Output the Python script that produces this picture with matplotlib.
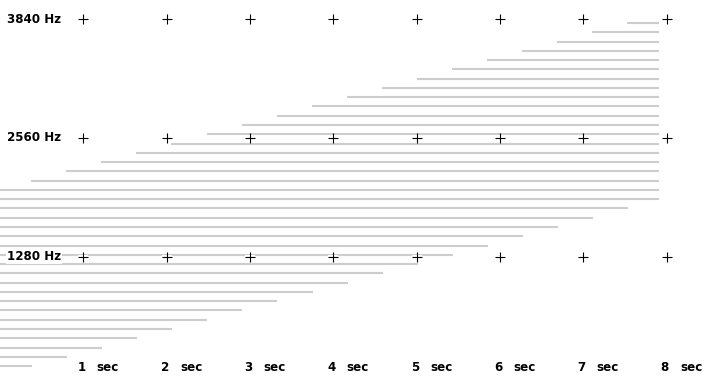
import matplotlib
matplotlib.use("Agg")
import matplotlib.pyplot as plt
from matplotlib.path import Path

# partials: frequency (Hz), start and end time (sec)
freqs = [100 * k for k in range(1, 39)]
starts = [0.0] * 20 + [0.37, 0.79, 1.21, 1.63, 2.05, 2.48, 2.90, 3.32, 3.74,
                       4.16, 4.58, 5.00, 5.43, 5.85, 6.27, 6.69, 7.11, 7.53]
ends = [0.39, 0.81, 1.23, 1.65, 2.07, 2.49, 2.91, 3.33, 3.76, 4.18, 4.60,
        5.02, 5.44, 5.86, 6.28, 6.70, 7.12, 7.54] + [7.91] * 20

sec_ticks = [1, 2, 3, 4, 5, 6, 7, 8]
hz_ticks = [1280, 2560, 3840]

fig = plt.figure(figsize=(7.13, 3.76), dpi=100)
ax = fig.add_axes([0, 0, 1, 1])
ax.set_xlim(0, 713 / 83.33)
ax.set_ylim(-6.5, 4048)
ax.axis("off")

ax.hlines(freqs, starts, ends, colors="#cdcdcd", linewidth=1.5,
          capstyle="butt", zorder=1)

# white box behind each cross, then the cross
box = Path([(-1, -1), (1, -1), (1, 0.4), (-1, 0.4), (-1, -1)],
           [Path.MOVETO, Path.LINETO, Path.LINETO, Path.LINETO, Path.CLOSEPOLY])
gx = [s for h in hz_ticks for s in sec_ticks]
gy = [h for h in hz_ticks for s in sec_ticks]
ax.plot(gx, gy, linestyle="none", marker=box, markersize=7.9,
        markerfacecolor="white", markeredgewidth=0, zorder=2)
ax.plot(gx, gy, linestyle="none", marker="+", markersize=7.9,
        markeredgewidth=0.8, color="black", zorder=3)

fs = 8.6
for h in hz_ticks:
    ax.text(0.084, h, "%d Hz" % h, fontsize=fs, fontweight="bold",
            ha="left", va="center", zorder=4,
            bbox=dict(facecolor="white", edgecolor="none", pad=0.5))

for s in sec_ticks:
    ax.text(s - 0.072, 80, str(s), fontsize=fs, fontweight="bold",
            ha="left", va="center")
    ax.text(s + 0.16, 80, "sec", fontsize=fs, fontweight="bold",
            ha="left", va="center")

fig.savefig("out.png", dpi=100)
